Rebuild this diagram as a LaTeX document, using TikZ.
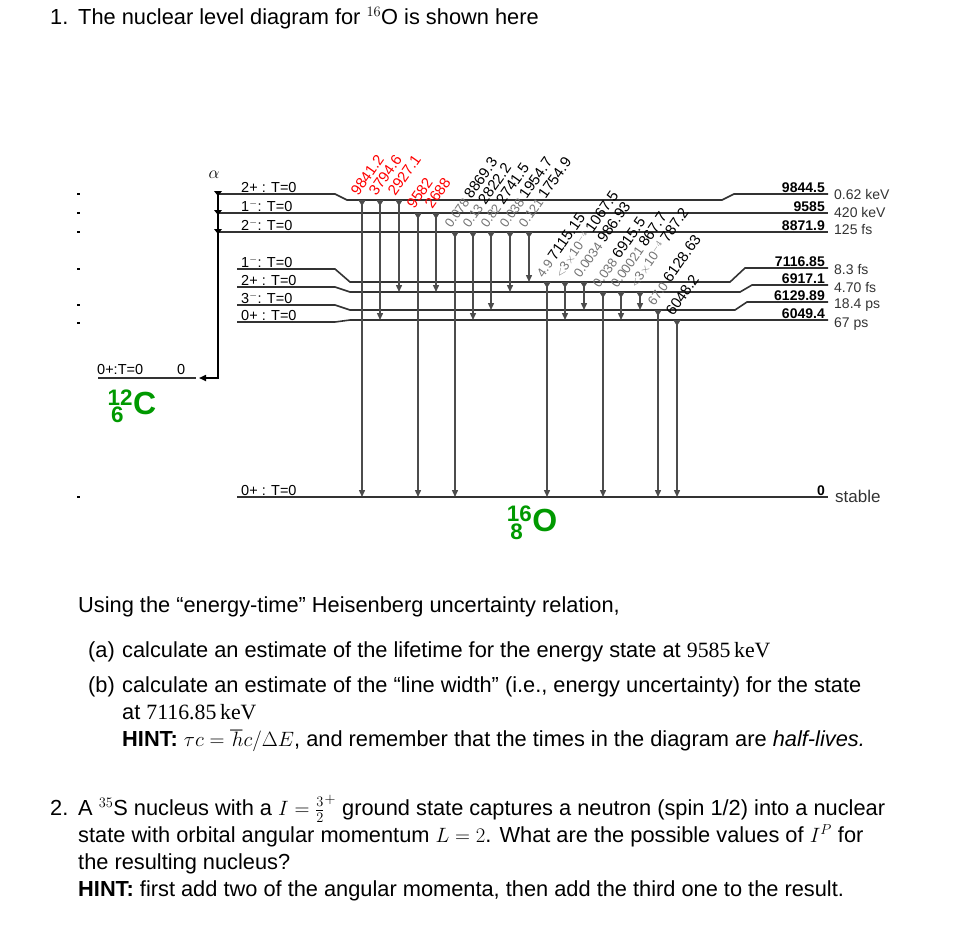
\documentclass[tikz,border=0pt]{standalone}
\usepackage{fontspec}
\setmainfont{Liberation Sans}
\newfontfamily\serifnum{Liberation Serif}
\usetikzlibrary{arrows.meta}
\newcommand\inten[1]{{\color{black!55}\fontsize{13}{13}\selectfont #1}}
\begin{document}
\begin{tikzpicture}[x=1pt,y=-1pt,
  lvl/.style={line width=1.6pt,draw=black!80},
  trans/.style={line width=1.4pt,draw=black!70,{Triangle[reversed,length=6pt,width=7pt]}-{Triangle[length=7pt,width=6pt]}},
  elab/.style={rotate=55,anchor=west,inner sep=0pt,font=\fontsize{15}{15}\selectfont},
  slab/.style={anchor=south west,inner sep=1pt,font=\fontsize{14.5}{14.5}\selectfont},
  rlab/.style={anchor=south east,inner sep=1pt,font=\bfseries\fontsize{14}{14}\selectfont},
  tlab/.style={anchor=west,inner sep=0pt,font=\fontsize{14}{14}\selectfont,text=black!80},
  body/.style={anchor=base west,inner sep=0pt,font=\fontsize{21.8}{21.8}\selectfont},
  iso/.style={text=green!60!black,inner sep=0pt,font=\bfseries\fontsize{32}{32}\selectfont}]
\useasboundingbox (0,0) rectangle (968,951);
% title
\node[body] (n1) at (50,24) {1.};
\node[body] (title) at (78,24) {The nuclear level diagram for $^{16}$O is shown here};
% levels of 16O
\draw[lvl] (218,194)--(335,194)--(347,200)--(722,200)--(734,194)--(828,194);
\draw[lvl] (218,213)--(828,213);
\draw[lvl] (218,232)--(828,232);
\draw[lvl] (237,269)--(335,269)--(350,282)--(730,282)--(745,268)--(828,268);
\draw[lvl] (237,287)--(335,287)--(350,292)--(740,292)--(752,285)--(828,285);
\draw[lvl] (237,305)--(335,305)--(350,310)--(735,310)--(747,302)--(828,302);
\draw[lvl] (237,322)--(335,322)--(350,320)--(828,320);
\draw[lvl] (237,497)--(828,497);
% left dots
\foreach \y in {194,213,232,269,305,323,497}{\draw[line width=2pt] (77,\y)--(80,\y);}
% 12C
\draw[lvl] (98,378)--(196,378);
\node[slab] (c0) at (96,376) {0+:T=0};
\node[slab] (cz) at (176,376) {0};
\node[iso] (c12) at (132,406) {$^{\mathbf{12}}_{\,\mathbf 6}$C};
\coordinate (aT) at (218,194);
\coordinate (aB) at (218,378);
\coordinate (aE) at (199,378);
\draw[line width=1.6pt,-{Triangle[length=7pt,width=6pt]}] (aT)--(aB)--(aE);
\foreach \y in {194,213,232}{\fill (214,\y-3)--(222,\y-3)--(218,\y+2)--cycle;}
\node[font=\fontsize{19}{19}\selectfont] (alpha) at (214,175) {$\alpha$};
% state labels
\node[slab] (s1) at (240,194) {2+ : T=0};
\node[slab] (s2) at (240,213) {1$^-$: T=0};
\node[slab] (s3) at (240,232) {2$^-$: T=0};
\node[slab] (s4) at (240,269) {1$^-$: T=0};
\node[slab] (s5) at (240,287) {2+ : T=0};
\node[slab] (s6) at (240,305) {3$^-$: T=0};
\node[slab] (s7) at (240,322) {0+ : T=0};
\node[slab] (s8) at (240,497) {0+ : T=0};
% right labels
\node[rlab] (r1) at (826,194) {9844.5};
\node[rlab] (r2) at (826,213) {9585};
\node[rlab] (r3) at (826,232) {8871.9};
\node[rlab] (r4) at (826,268) {7116.85};
\node[rlab] (r5) at (826,285) {6917.1};
\node[rlab] (r6) at (826,302) {6129.89};
\node[rlab] (r7) at (826,320) {6049.4};
\node[rlab] (r8) at (826,497) {0};
\node[tlab] (h1) at (834,194) {0.62 keV};
\node[tlab] (h2) at (834,212) {420 keV};
\node[tlab] (h3) at (834,229) {125 fs};
\node[tlab] (h4) at (834,269) {8.3 fs};
\node[tlab] (h5) at (834,287) {4.70 fs};
\node[tlab] (h6) at (834,305) {18.4 ps};
\node[tlab] (h7) at (834,324) {67 ps};
\node[anchor=west,inner sep=0pt,font=\fontsize{17}{17}\selectfont,text=black!80] (st) at (835,496) {stable};
\node[iso] (o16) at (532,523) {$^{\mathbf{16}}_{\,\mathbf 8}$O};
% transitions
\foreach \i/\x/\t/\b/\c/\lab in {
 1/362/200/497/red/{9841.2},
 2/380/200/320/red/{3794.6},
 3/399/200/292/red/{2927.1},
 4/418/213/497/red/{9582},
 5/436/213/292/red/{2688},
 6/455/232/497/black/{\inten{0.078}\hspace{3pt}8869.3},
 7/473/232/320/black/{\inten{0.13}\hspace{3pt}2822.2},
 8/491/232/310/black/{\inten{0.82}\hspace{3pt}2741.5},
 9/510/232/292/black/{\inten{0.038}\hspace{3pt}1954.7},
 10/529/232/282/black/{\inten{0.121}\hspace{3pt}1754.9},
 11/547/282/497/black/{\inten{4.9}\hspace{3pt}7115.15},
 12/565/282/320/black/{\inten{$<$3$\times$10$^{-4}$}\hspace{3pt}1067.5},
 13/584/282/310/black/{\inten{0.0034}\hspace{3pt}986.93},
 14/603/292/497/black/{\inten{0.038}\hspace{3pt}6915.5},
 15/621/292/320/black/{\inten{0.00021}\hspace{3pt}867.7},
 16/640/292/310/black/{\inten{$<$3$\times$10$^{-4}$}\hspace{3pt}787.2},
 17/658/310/497/black/{\inten{67.0}\hspace{3pt}6128.63},
 18/677/320/497/black/{6048.2}}{
  \coordinate (u\i) at (\x,\t);
  \coordinate (d\i) at (\x,\b);
  \draw[trans] (u\i)--(d\i);
  \node[elab,text=\c] (l\i) at (\x-8,\t-6) {\lab};
}
% question text
\node[body] (q0) at (78,612) {Using the “energy-time” Heisenberg uncertainty relation,};
\node[body] (qa) at (88,657) {(a)};
\node[body] (qat) at (122,657) {calculate an estimate of the lifetime for the energy state at {\serifnum 9585\,keV}};
\node[body] (qb) at (88,692) {(b)};
\node[body] (qbt) at (122,692) {calculate an estimate of the “line width” (i.e., energy uncertainty) for the state};
\node[body] (qbt2) at (122,719) {at {\serifnum 7116.85\,keV}};
\node[body] (qh) at (122,746) {\textbf{HINT:} $\tau c=\hbar c/\Delta E$, and remember that the times in the diagram are \textit{half-lives.}};
\node[body] (n2) at (50,815) {2.};
\node[body] (p1) at (78,815) {A $^{35}$S nucleus with a $I=\frac{3}{2}^{+}$ ground state captures a neutron (spin 1/2) into a nuclear};
\node[body] (p2) at (78,842) {state with orbital angular momentum $L=2$. What are the possible values of $I^P$ for};
\node[body] (p3) at (78,869) {the resulting nucleus?};
\node[body] (p4) at (78,896) {\textbf{HINT:} first add two of the angular momenta, then add the third one to the result.};
\end{tikzpicture}
\end{document}
